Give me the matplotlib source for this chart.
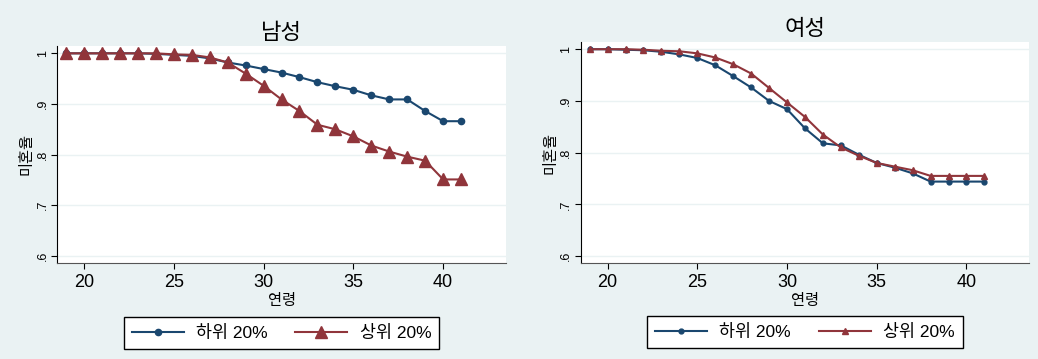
import matplotlib.pyplot as plt
import numpy as np

plt.rcParams['font.family'] = ['Liberation Sans', 'Noto Sans CJK KR']

# 연령 19~41
ages = np.arange(19, 42)

# 남성
male_low = [1.0, 1.0, 1.0, 1.0, 1.0, 0.999, 0.997, 0.995, 0.990, 0.982, 0.976, 0.969,
            0.962, 0.953, 0.943, 0.935, 0.928, 0.917, 0.909, 0.909, 0.886, 0.866, 0.866]
male_high = [1.0, 1.0, 1.0, 1.0, 1.0, 1.0, 0.998, 0.997, 0.992, 0.982, 0.960, 0.936,
             0.909, 0.886, 0.859, 0.850, 0.836, 0.818, 0.806, 0.796, 0.788, 0.751, 0.751]

# 여성
female_low = [1.0, 1.0, 0.999, 0.998, 0.995, 0.990, 0.983, 0.969, 0.948, 0.926, 0.900, 0.884,
              0.847, 0.818, 0.814, 0.796, 0.780, 0.771, 0.760, 0.744, 0.744, 0.744, 0.744]
female_high = [1.0, 1.0, 1.0, 0.999, 0.997, 0.996, 0.992, 0.984, 0.971, 0.953, 0.925, 0.897,
               0.869, 0.835, 0.810, 0.794, 0.780, 0.773, 0.766, 0.755, 0.755, 0.755, 0.755]

yticks = [0.6, 0.7, 0.8, 0.9, 1.0]
ytick_labels = ['.6', '.7', '.8', '.9', '1']
xticks = [20, 25, 30, 35, 40]

blue = '#1a476f'
red = '#90353b'
bg = '#eaf2f3'

fig = plt.figure(figsize=(10.38, 3.59), dpi=100, facecolor=bg)
ax1 = fig.add_axes([0.0549, 0.2674, 0.4326, 0.6045])
ax2 = fig.add_axes([0.5594, 0.2666, 0.4322, 0.6172])

panels = [
    (ax1, '남성', male_low, male_high, 4.5, 8.5, (0.5, -0.21)),
    (ax2, '여성', female_low, female_high, 3.5, 5, (0.5, -0.2)),
]

for ax, title, low, high, ms_low, ms_high, anchor in panels:
    ax.set_facecolor('white')
    ax.plot(ages, low, color=blue, lw=1.5, marker='o', ms=ms_low, label='하위 20%')
    ax.plot(ages, high, color=red, lw=1.5, marker='^', ms=ms_high, label='상위 20%')
    ax.set_xlim(18.5, 43.5)
    ax.set_ylim(0.586, 1.0145)
    ax.set_xticks(xticks)
    ax.set_xticklabels([str(t) for t in xticks], fontsize=13)
    ax.set_yticks(yticks)
    ax.set_yticklabels(ytick_labels, fontsize=9, rotation=90, va='center')
    ax.grid(axis='y', color=bg, lw=1)
    ax.set_axisbelow(True)
    for s in ['top', 'right']:
        ax.spines[s].set_visible(False)
    ax.spines['left'].set_color('black')
    ax.spines['bottom'].set_color('#555555')
    ax.tick_params(axis='x', direction='out', length=4, width=0.8, pad=4)
    ax.tick_params(axis='y', direction='out', length=4, width=0.8, pad=2)
    ax.set_title(title, fontsize=16, pad=5)
    ax.set_xlabel('연령', fontsize=11, labelpad=2)
    ax.set_ylabel('미혼율', fontsize=11, labelpad=2)
    leg = ax.legend(loc='upper center', bbox_to_anchor=anchor, ncol=2, fontsize=12.5,
                    frameon=True, fancybox=False, edgecolor='black', framealpha=1,
                    handlelength=3, columnspacing=1.6, handletextpad=0.7, borderpad=0.45)
    leg.get_frame().set_linewidth(1.0)

plt.savefig('out.png', dpi=100, facecolor=bg)
